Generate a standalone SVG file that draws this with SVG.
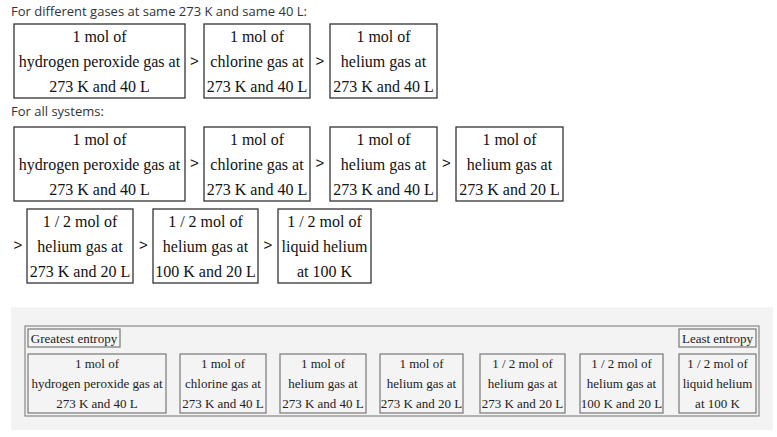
<svg xmlns="http://www.w3.org/2000/svg" width="777" height="437" viewBox="0 0 777 437">
<style>
.h{font-family:"Open Sans","Liberation Sans",sans-serif;font-size:13px;fill:#333}
.t{font-family:"Liberation Serif",serif;font-size:16px;fill:#111;text-anchor:middle}
.s{font-family:"Liberation Serif",serif;font-size:13px;fill:#222;text-anchor:middle}
.g{font-family:"Liberation Sans",sans-serif;font-size:15px;fill:#111;text-anchor:middle}
.b{fill:#fff;stroke:#333;stroke-width:1.3}
.c{fill:#f4f4f4;stroke:#777;stroke-width:1.2}
</style>
<rect width="777" height="437" fill="#fff"/>
<text class="h" x="11" y="16">For different gases at same 273 K and same 40 L:</text>
<g id="r1a"><rect class="b" x="14" y="24" width="171" height="74"/><text class="t" x="99.5" y="42">1 mol of</text><text class="t" x="99.5" y="67">hydrogen peroxide gas at</text><text class="t" x="99.5" y="92">273 K and 40 L</text></g>
<g id="r1b"><rect class="b" x="204" y="24" width="106" height="74"/><text class="t" x="257" y="42">1 mol of</text><text class="t" x="257" y="67">chlorine gas at</text><text class="t" x="257" y="92">273 K and 40 L</text></g>
<g id="r1c"><rect class="b" x="330" y="24" width="107" height="74"/><text class="t" x="383.5" y="42">1 mol of</text><text class="t" x="383.5" y="67">helium gas at</text><text class="t" x="383.5" y="92">273 K and 40 L</text></g>
<g id="connectors">
<text class="g" x="194.5" y="66">&gt;</text><text class="g" x="320" y="66">&gt;</text>
<text class="g" x="194.5" y="168">&gt;</text><text class="g" x="320" y="168">&gt;</text><text class="g" x="446.5" y="168">&gt;</text>
<text class="g" x="18" y="250">&gt;</text><text class="g" x="143.5" y="250">&gt;</text><text class="g" x="268" y="250">&gt;</text>
</g>
<text class="h" x="11" y="116">For all systems:</text>
<g id="r2a"><rect class="b" x="14" y="127" width="171" height="74"/><text class="t" x="99.5" y="145">1 mol of</text><text class="t" x="99.5" y="170">hydrogen peroxide gas at</text><text class="t" x="99.5" y="195">273 K and 40 L</text></g>
<g id="r2b"><rect class="b" x="204" y="127" width="106" height="74"/><text class="t" x="257" y="145">1 mol of</text><text class="t" x="257" y="170">chlorine gas at</text><text class="t" x="257" y="195">273 K and 40 L</text></g>
<g id="r2c"><rect class="b" x="330" y="127" width="107" height="74"/><text class="t" x="383.5" y="145">1 mol of</text><text class="t" x="383.5" y="170">helium gas at</text><text class="t" x="383.5" y="195">273 K and 40 L</text></g>
<g id="r2d"><rect class="b" x="456" y="127" width="107" height="74"/><text class="t" x="509.5" y="145">1 mol of</text><text class="t" x="509.5" y="170">helium gas at</text><text class="t" x="509.5" y="195">273 K and 20 L</text></g>
<g id="r3a"><rect class="b" x="27" y="209" width="106" height="74"/><text class="t" x="80" y="227">1 / 2 mol of</text><text class="t" x="80" y="252">helium gas at</text><text class="t" x="80" y="277">273 K and 20 L</text></g>
<g id="r3b"><rect class="b" x="153" y="209" width="105" height="74"/><text class="t" x="205.5" y="227">1 / 2 mol of</text><text class="t" x="205.5" y="252">helium gas at</text><text class="t" x="205.5" y="277">100 K and 20 L</text></g>
<g id="r3c"><rect class="b" x="278" y="209" width="93" height="74"/><text class="t" x="324.5" y="227">1 / 2 mol of</text><text class="t" x="324.5" y="252">liquid helium</text><text class="t" x="324.5" y="277">at 100 K</text></g>
<rect x="11" y="307" width="762" height="123" fill="#f3f3f3"/>
<rect x="25" y="326" width="734" height="90" fill="none" stroke="#888" stroke-width="1.2"/>
<g id="greatest"><rect class="c" x="28" y="329" width="92" height="18"/><text class="s" x="74" y="343">Greatest entropy</text></g>
<g id="least"><rect class="c" x="679" y="329" width="77" height="18"/><text class="s" x="717.5" y="343">Least entropy</text></g>
<g id="b1"><rect class="c" x="28" y="354" width="138" height="59"/><text class="s" x="97" y="368">1 mol of</text><text class="s" x="97" y="388">hydrogen peroxide gas at</text><text class="s" x="97" y="408">273 K and 40 L</text></g>
<g id="b2"><rect class="c" x="180" y="354" width="86" height="59"/><text class="s" x="223" y="368">1 mol of</text><text class="s" x="223" y="388">chlorine gas at</text><text class="s" x="223" y="408">273 K and 40 L</text></g>
<g id="b3"><rect class="c" x="280" y="354" width="86" height="59"/><text class="s" x="323" y="368">1 mol of</text><text class="s" x="323" y="388">helium gas at</text><text class="s" x="323" y="408">273 K and 40 L</text></g>
<g id="b4"><rect class="c" x="380" y="354" width="83" height="59"/><text class="s" x="421.5" y="368">1 mol of</text><text class="s" x="421.5" y="388">helium gas at</text><text class="s" x="421.5" y="408">273 K and 20 L</text></g>
<g id="b5"><rect class="c" x="480" y="354" width="85" height="59"/><text class="s" x="522.5" y="368">1 / 2 mol of</text><text class="s" x="522.5" y="388">helium gas at</text><text class="s" x="522.5" y="408">273 K and 20 L</text></g>
<g id="b6"><rect class="c" x="580" y="354" width="83" height="59"/><text class="s" x="621.5" y="368">1 / 2 mol of</text><text class="s" x="621.5" y="388">helium gas at</text><text class="s" x="621.5" y="408">100 K and 20 L</text></g>
<g id="b7"><rect class="c" x="679" y="354" width="77" height="59"/><text class="s" x="717.5" y="368">1 / 2 mol of</text><text class="s" x="717.5" y="388">liquid helium</text><text class="s" x="717.5" y="408">at 100 K</text></g>
</svg>
